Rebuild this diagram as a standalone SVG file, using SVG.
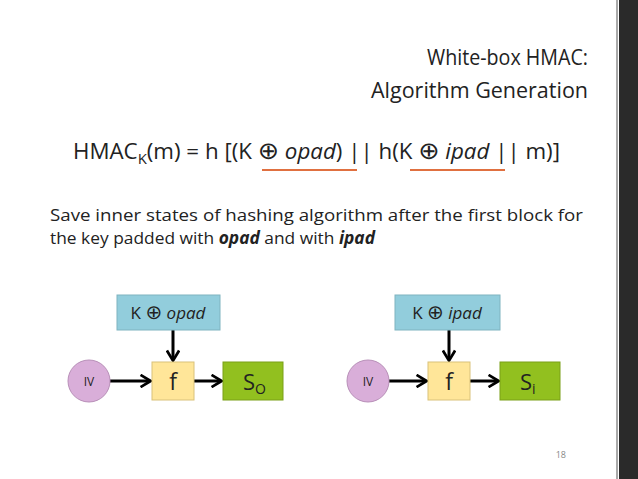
<svg xmlns="http://www.w3.org/2000/svg" width="638" height="479" viewBox="0 0 638 479">
<defs>
<style>
text{font-family:"Open Sans","Liberation Sans",sans-serif;fill:#222}
.top{fill:#92cddc;stroke:#7fb3c0}
.iv{fill:#d9aed9;stroke:#b88fb8}
.f{fill:#ffe699;stroke:#d9c27a}
.s{fill:#92c01f;stroke:#7aa018}
.c{stroke:#000;stroke-width:3;fill:none;marker-end:url(#a)}
.x{font-family:"DejaVu Sans",sans-serif}
</style>
<marker id="a" viewBox="0 0 10 10" refX="8" refY="5" markerWidth="4.5" markerHeight="4.5" orient="auto"><path d="M1,0.5 L8.5,5 L1,9.5" fill="none" stroke="#000" stroke-width="2"/></marker>
</defs>
<rect width="638" height="479" fill="#fff"/>
<rect x="619" y="0" width="19" height="479" fill="#2a2a2a"/>
<line x1="617" y1="0" x2="617" y2="479" stroke="#555" stroke-width="1"/>
<text x="588" y="65" font-size="21" text-anchor="end" textLength="161" lengthAdjust="spacingAndGlyphs">White-box HMAC:</text>
<text x="588" y="98" font-size="21" text-anchor="end" textLength="217" lengthAdjust="spacingAndGlyphs">Algorithm Generation</text>
<text x="73" y="159" font-size="21" textLength="487" lengthAdjust="spacingAndGlyphs">HMAC<tspan font-size="14" dy="5">K</tspan><tspan dy="-5">(m) = h [(K <tspan class="x" font-size="24">⊕</tspan> <tspan font-style="italic">opad</tspan>) || h(K <tspan class="x" font-size="24">⊕</tspan> <tspan font-style="italic">ipad</tspan> || m)]</tspan></text>
<line x1="262" y1="170" x2="357" y2="170" stroke="#e07040" stroke-width="2"/>
<line x1="410" y1="170" x2="505" y2="170" stroke="#e07040" stroke-width="2"/>
<text x="50" y="221" font-size="17" textLength="533" lengthAdjust="spacingAndGlyphs">Save inner states of hashing algorithm after the first block for</text>
<text x="50" y="244" font-size="17" textLength="325" lengthAdjust="spacingAndGlyphs">the key padded with <tspan font-weight="bold" font-style="italic">opad</tspan> and with <tspan font-weight="bold" font-style="italic">ipad</tspan></text>
<g id="connectors">
<path class="c" d="M173,330 V360"/>
<path class="c" d="M110,381 H150"/>
<path class="c" d="M194,381 H221"/>
<path class="c" d="M449,330 V360"/>
<path class="c" d="M389,381 H426"/>
<path class="c" d="M470,381 H498"/>
</g>
<g id="opad"><rect class="top" x="117" y="295" width="103" height="35"/><text x="168" y="319" font-size="17" text-anchor="middle">K <tspan class="x" font-size="20">⊕</tspan> <tspan font-style="italic">opad</tspan></text></g>
<g id="iv1"><circle class="iv" cx="89" cy="381" r="21"/><text x="89" y="386" font-size="12" text-anchor="middle">IV</text></g>
<g id="f1"><rect class="f" x="152" y="362" width="42" height="38"/><text x="173" y="390" font-size="23" text-anchor="middle">f</text></g>
<g id="so"><rect class="s" x="223" y="362" width="60" height="38"/><text x="243" y="390" font-size="22">S<tspan font-size="14" dy="4">O</tspan></text></g>
<g id="ipad"><rect class="top" x="395" y="295" width="105" height="35"/><text x="447" y="319" font-size="17" text-anchor="middle">K <tspan class="x" font-size="20">⊕</tspan> <tspan font-style="italic">ipad</tspan></text></g>
<g id="iv2"><circle class="iv" cx="368" cy="381" r="21"/><text x="368" y="386" font-size="12" text-anchor="middle">IV</text></g>
<g id="f2"><rect class="f" x="428" y="362" width="42" height="38"/><text x="449" y="390" font-size="23" text-anchor="middle">f</text></g>
<g id="si"><rect class="s" x="500" y="362" width="60" height="38"/><text x="520" y="390" font-size="22">S<tspan font-size="14" dy="4">i</tspan></text></g>
<text x="566" y="458" font-size="9" style="fill:#888" text-anchor="end">18</text>
</svg>
